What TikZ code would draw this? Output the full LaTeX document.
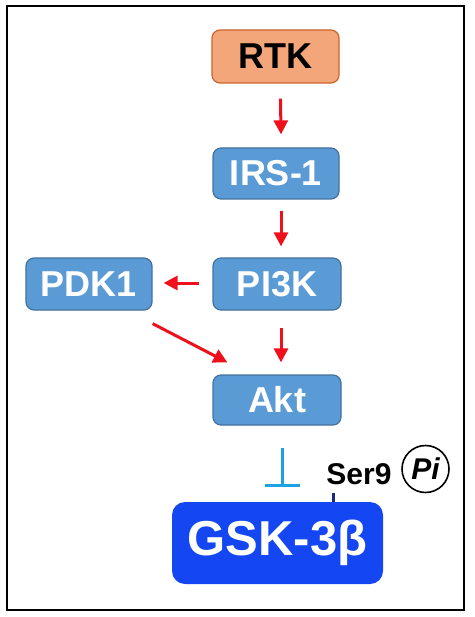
\documentclass[tikz,border=0pt]{standalone}
\usepackage{fontspec}
\setmainfont{Liberation Sans}
\usetikzlibrary{arrows.meta}
\definecolor{boxblue}{HTML}{5B9BD5}
\definecolor{boxblueline}{HTML}{41719C}
\definecolor{rtkfill}{HTML}{F4A67B}
\definecolor{rtkline}{HTML}{C9652B}
\definecolor{gskblue}{HTML}{1446F2}
\definecolor{arrred}{HTML}{F0101C}
\definecolor{inhblue}{HTML}{1BA3E3}
\definecolor{tickblue}{HTML}{1A2A80}
\tikzset{
  protbox/.style={draw=boxblueline, fill=boxblue, line width=1.2pt, rounded corners=8pt,
    text=white, font=\fontsize{36}{36}\selectfont\bfseries, inner sep=0pt},
  rtkbox/.style={protbox, draw=rtkline, fill=rtkfill, text=black},
  gskbox/.style={fill=gskblue, rounded corners=13pt, text=white,
    font=\fontsize{49}{49}\selectfont\bfseries, inner sep=0pt},
  act/.style={draw=arrred, line width=3pt, -{Triangle[length=14pt,width=14pt]}},
  inh/.style={draw=inhblue, line width=3pt, -{Bar[width=35pt,line width=3pt]}},
}
\begin{document}
\begin{tikzpicture}[x=1pt,y=-1pt]
\useasboundingbox (0,0) rectangle (474,617);
\draw[line width=2.2pt] (7,6) rectangle (464,610);
\node[rtkbox, minimum width=127pt, minimum height=53pt] (rtk) at (275.5,56.5) {RTK};
\node[protbox, minimum width=126pt, minimum height=51pt] (irs) at (276,173.5) {IRS-1};
\node[protbox, minimum width=128pt, minimum height=52pt] (pi3k) at (277,284) {PI3K};
\node[protbox, minimum width=126pt, minimum height=52pt] (pdk) at (89,284) {PDK1};
\node[protbox, minimum width=128pt, minimum height=50pt] (akt) at (277,400) {Akt};
\node[gskbox, minimum width=211pt, minimum height=82pt] (gsk) at (277.5,543) {GSK-3β};
\node[font=\fontsize{30}{30}\selectfont\bfseries] (ser) at (359,474) {Ser9};
\node[draw, circle, line width=1.6pt, minimum size=47pt, inner sep=0pt,
  font=\fontsize{30}{30}\selectfont\bfseries\itshape] (pi) at (425.5,469) {Pi};
\draw[act] ([xshift=5pt,yshift=-15pt]rtk.south) -- ([xshift=5pt,yshift=13pt]irs.north);
\draw[act] ([xshift=5pt,yshift=-11pt]irs.south) -- ([xshift=4pt,yshift=11pt]pi3k.north);
\draw[act] ([xshift=4pt,yshift=-17pt]pi3k.south) -- ([xshift=4pt,yshift=12pt]akt.north);
\draw[act] ([xshift=-13pt,yshift=1pt]pi3k.west) -- ([xshift=11pt,yshift=1pt]pdk.east);
\draw[act] ([yshift=-13pt]pdk.south east) -- ([xshift=15pt,yshift=12pt]akt.north west);
\draw[inh] ([xshift=5pt,yshift=-22pt]akt.south) -- ([xshift=4.5pt,yshift=15pt]gsk.north);
\draw[draw=tickblue, line width=3pt] ([xshift=55.5pt]gsk.north) -- ([xshift=55.5pt,yshift=9pt]gsk.north);
\end{tikzpicture}
\end{document}
